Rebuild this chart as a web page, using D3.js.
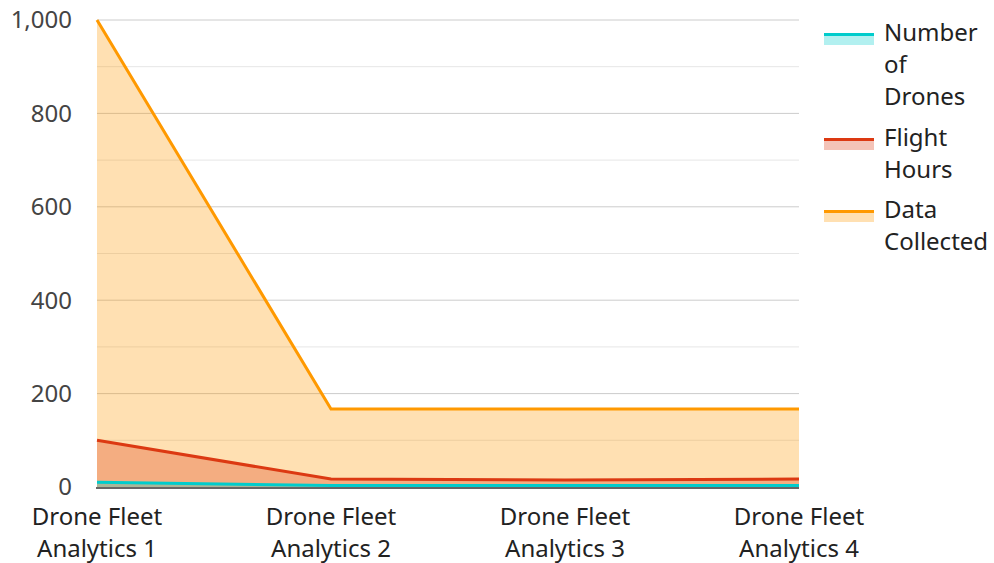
<!DOCTYPE html>
<html>
<head>
<meta charset="utf-8">
<script src="https://cdn.jsdelivr.net/npm/d3@7"></script>
<style>
  body { margin: 0; background: #fff; }
  text { font-family: "Noto Sans", "Open Sans", sans-serif; }
</style>
</head>
<body>
<div id="chart"></div>
<script>
// categories and series
var categories = ["Drone Fleet Analytics 1", "Drone Fleet Analytics 2", "Drone Fleet Analytics 3", "Drone Fleet Analytics 4"];
var numberOfDrones = [10, 3, 3, 3];
var flightHours = [100, 17, 15, 17];
var dataCollected = [1000, 167, 167, 167];
var yTicks = [0, 200, 400, 600, 800, 1000];
var yMinor = [100, 300, 500, 700, 900];

var series = [
  { name: ["Number", "of", "Drones"], values: numberOfDrones, color: "#00cccc" },
  { name: ["Flight", "Hours"], values: flightHours, color: "#dc3912" },
  { name: ["Data", "Collected"], values: dataCollected, color: "#ff9900" }
];

var width = 994, height = 563;
var margin = { top: 20, right: 195, bottom: 76, left: 97 };
var fontSize = 24;

var svg = d3.select("#chart").append("svg")
  .attr("width", width)
  .attr("height", height);

var x = d3.scalePoint()
  .domain(categories)
  .range([margin.left, width - margin.right]);

var y = d3.scaleLinear()
  .domain([0, 1000])
  .range([height - margin.bottom, margin.top]);

// gridlines
svg.append("g").selectAll("line.minor")
  .data(yMinor)
  .enter().append("line")
  .attr("x1", margin.left).attr("x2", width - margin.right)
  .attr("y1", function(d) { return y(d); }).attr("y2", function(d) { return y(d); })
  .attr("stroke", "#e6e6e6").attr("stroke-width", 1);

svg.append("g").selectAll("line.major")
  .data(yTicks.filter(function(d) { return d > 0; }))
  .enter().append("line")
  .attr("x1", margin.left).attr("x2", width - margin.right)
  .attr("y1", function(d) { return y(d); }).attr("y2", function(d) { return y(d); })
  .attr("stroke", "#cccccc").attr("stroke-width", 1);

// y labels
svg.append("g").selectAll("text")
  .data(yTicks)
  .enter().append("text")
  .attr("x", 72)
  .attr("y", function(d) { return y(d); })
  .attr("dy", "0.35em")
  .attr("text-anchor", "end")
  .attr("font-size", fontSize)
  .attr("fill", "#444")
  .text(function(d) { return d3.format(",")(d); });

var area = d3.area()
  .x(function(d, i) { return x(categories[i]); })
  .y0(y(0))
  .y1(function(d) { return y(d); });

var line = d3.line()
  .x(function(d, i) { return x(categories[i]); })
  .y(function(d) { return y(d); });

// areas, back to front
series.slice().reverse().forEach(function(s) {
  svg.append("path")
    .attr("d", area(s.values))
    .attr("fill", s.color)
    .attr("fill-opacity", 0.3);
});

// baseline
svg.append("line")
  .attr("x1", margin.left - 1).attr("x2", width - margin.right)
  .attr("y1", y(0) + 1).attr("y2", y(0) + 1)
  .attr("stroke", "#333").attr("stroke-width", 1.5);

series.slice().reverse().forEach(function(s) {
  svg.append("path")
    .attr("d", line(s.values))
    .attr("fill", "none")
    .attr("stroke", s.color)
    .attr("stroke-width", 3);
});

// x labels
var xl = svg.append("g").selectAll("text")
  .data(categories)
  .enter().append("text")
  .attr("x", function(d) { return x(d); })
  .attr("y", 525)
  .attr("text-anchor", "middle")
  .attr("font-size", fontSize)
  .attr("fill", "#222");
xl.append("tspan")
  .attr("x", function(d) { return x(d); })
  .text(function(d) { return d.replace(/ \d+$/, "").replace(" Analytics", ""); });
xl.append("tspan")
  .attr("x", function(d) { return x(d); })
  .attr("dy", 32)
  .text(function(d) { return "Analytics " + d.split(" ").pop(); });

// legend
var legY = [33, 138, 210];
var leg = svg.append("g").selectAll("g")
  .data(series)
  .enter().append("g")
  .attr("transform", function(d, i) { return "translate(824," + legY[i] + ")"; });
leg.append("rect")
  .attr("x", 0).attr("y", 0).attr("width", 50).attr("height", 12)
  .attr("fill", function(d) { return d.color; })
  .attr("fill-opacity", 0.3);
leg.append("line")
  .attr("x1", 0).attr("x2", 50).attr("y1", 1.5).attr("y2", 1.5)
  .attr("stroke", function(d) { return d.color; })
  .attr("stroke-width", 3);
leg.each(function(d) {
  var t = d3.select(this).append("text")
    .attr("x", 60).attr("y", 8)
    .attr("font-size", fontSize)
    .attr("fill", "#222");
  d.name.forEach(function(w, k) {
    t.append("tspan").attr("x", 60).attr("dy", k === 0 ? 0 : 32).text(w);
  });
});
</script>
</body>
</html>
